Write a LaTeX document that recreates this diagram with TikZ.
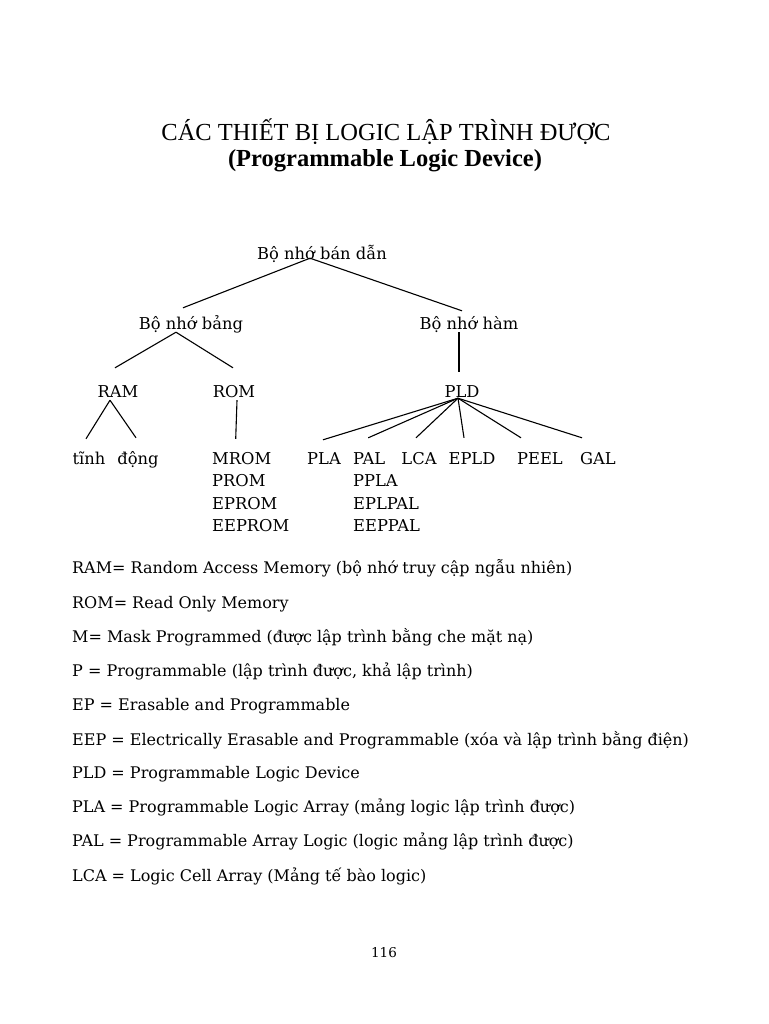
\documentclass[tikz,border=0pt]{standalone}
\usepackage{fontspec}
\setmainfont{Liberation Serif}
\newfontfamily\treefont{DejaVu Serif}
\usetikzlibrary{positioning,calc}

\tikzset{
	tree/.style={font=\treefont\fontsize{16.3}{19}\selectfont, inner sep=0pt, text height=12pt, text depth=3pt, anchor=base},
	treecol/.style={tree, anchor=base west},
	legend/.style={font=\treefont\fontsize{16}{19}\selectfont, inner sep=0pt, anchor=base west},
	branch/.style={line width=1.1pt}
}

\begin{document}
\begin{tikzpicture}[x=1pt,y=-1pt]
		%% the page itself, so the picture keeps the size of the sheet
		\useasboundingbox[fill=white] (0,0) rectangle (768,1024);
		%% title
		\node[font=\fontsize{24.5}{28}\selectfont, anchor=base] (title) at (386,141) {CÁC THIẾT BỊ LOGIC LẬP TRÌNH ĐƯỢC};
		\node[font=\bfseries\fontsize{24.5}{28}\selectfont, anchor=base] (subtitle) at (385,167) {(Programmable Logic Device)};
		%% the tree: every level has its own baseline
		\node[tree] (root) at (322,259) {Bộ nhớ bán dẫn};
		\node[tree] (bang) at (191,329) {Bộ nhớ bảng};
		\node[tree] (ham) at (469,329) {Bộ nhớ hàm};
		\node[tree] (ram) at (118,397) {RAM};
		\node[tree] (rom) at (234,397) {ROM};
		\node[tree] (pld) at (462,397) {PLD};
		\node[tree] (tinh) at (89,464) {tĩnh};
		\node[tree] (dong) at (138,464) {động};
		%% the ROM column
		\node[treecol] (mrom) at (212,464) {MROM};
		\node[treecol] (prom) at (212,486) {PROM};
		\node[treecol] (eprom) at (212,509) {EPROM};
		\node[treecol] (eeprom) at (212,531) {EEPROM};
		%% the PLD row and the PAL column
		\node[tree] (pla) at (324,464) {PLA};
		\node[treecol] (pal) at (353,464) {PAL};
		\node[treecol] (ppla) at (353,486) {PPLA};
		\node[treecol] (eplpal) at (353,509) {EPLPAL};
		\node[treecol] (eeppal) at (353,531) {EEPPAL};
		\node[tree] (lca) at (419,464) {LCA};
		\node[tree] (epld) at (472,464) {EPLD};
		\node[tree] (peel) at (540,464) {PEEL};
		\node[tree] (gal) at (598,464) {GAL};
		%% branches
		\begin{scope}[branch]
			\draw ([xshift=-12pt,yshift=4pt]root.south) -- ([xshift=-8pt,yshift=9pt]bang.north);
			\draw ([xshift=-12pt,yshift=4pt]root.south) -- ([xshift=-7pt,yshift=6pt]ham.north);
			\draw ([xshift=-15pt]bang.south) -- ([xshift=-3pt,yshift=17pt]ram.north);
			\draw ([xshift=-15pt]bang.south) -- ([xshift=-1pt,yshift=17pt]rom.north);
			\draw ([xshift=-10pt]ham.south) -- ([xshift=-3pt,yshift=13pt]pld.north);
			\draw ([xshift=-8pt]ram.south) -- ([xshift=-3pt,yshift=13pt]tinh.north);
			\draw ([xshift=-8pt]ram.south) -- ([xshift=-2pt,yshift=14pt]dong.north);
			\draw ([xshift=3pt]rom.south) -- ([xshift=-6pt,yshift=13pt]mrom.north);
			\draw ([xshift=-4pt,yshift=2pt]pld.south) -- ([xshift=-1pt,yshift=12pt]pla.north);
			\draw ([xshift=-4pt,yshift=2pt]pld.south) -- ([xshift=-1pt,yshift=14pt]pal.north);
			\draw ([xshift=-4pt,yshift=2pt]pld.south) -- ([xshift=-3pt,yshift=14pt]lca.north);
			\draw ([xshift=-4pt,yshift=2pt]pld.south) -- ([xshift=-8pt,yshift=14pt]epld.north);
			\draw ([xshift=-4pt,yshift=2pt]pld.south) -- ([xshift=-19pt,yshift=14pt]peel.north);
			\draw ([xshift=-4pt,yshift=2pt]pld.south) -- ([xshift=-16pt,yshift=14pt]gal.north);
		\end{scope}
		%% what the short names stand for
		\node[legend] (lram) at (72,573) {RAM= Random Access Memory (bộ nhớ truy cập ngẫu nhiên)};
		\node[legend] (lrom) at (72,608) {ROM= Read Only Memory};
		\node[legend] (lm) at (72,642) {M= Mask Programmed (được lập trình bằng che mặt nạ)};
		\node[legend] (lp) at (72,676) {P = Programmable (lập trình được, khả lập trình)};
		\node[legend] (lep) at (72,710) {EP = Erasable and Programmable};
		\node[legend] (leep) at (72,745) {EEP = Electrically Erasable and Programmable (xóa và lập trình bằng điện)};
		\node[legend] (lpld) at (72,778) {PLD = Programmable Logic Device};
		\node[legend] (lpla) at (72,812) {PLA = Programmable Logic Array (mảng logic lập trình được)};
		\node[legend] (lpal) at (72,846) {PAL = Programmable Array Logic (logic mảng lập trình được)};
		\node[legend] (llca) at (72,881) {LCA = Logic Cell Array (Mảng tế bào logic)};
		%% page number
		\node[font=\treefont\fontsize{13.5}{16}\selectfont, anchor=base] (page) at (384,957) {116};
	\end{tikzpicture}
\end{document}
